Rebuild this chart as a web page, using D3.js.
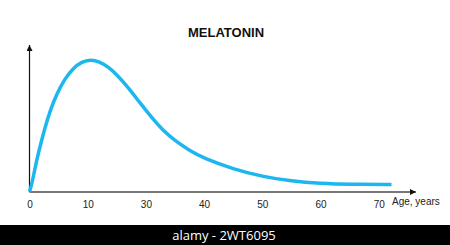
<!DOCTYPE html>
<html>
<head>
<meta charset="utf-8">
<script src="https://cdn.jsdelivr.net/npm/d3@7"></script>
<style>
  body { margin: 0; background: #fff; }
  text { font-family: "Liberation Sans", Arial, sans-serif; }
</style>
</head>
<body>
<div id="chart"></div>
<script>
// tick labels as printed on the original (no "20")
var tickLabels = ["0", "10", "30", "40", "50", "60", "70"];
// curve positions in tick-slot units, level relative to the peak (=100)
var agePos = [0, 0.03, 0.07, 0.12, 0.18, 0.27, 0.36, 0.47, 0.6, 0.75, 0.9, 1.05,
  1.2, 1.35, 1.5, 1.7, 1.9, 2.1, 2.3, 2.5, 2.75, 3.0, 3.5, 4.0, 4.5, 5.0, 5.5, 6.22];
var level = [0, 4, 12, 23, 34, 49, 62, 74, 85, 93.5, 98.3, 100,
  98.5, 94.5, 88.5, 78.5, 67, 56, 46, 38.5, 31, 25, 17, 11.3, 7.8, 6.1, 5.4, 5.3];

var svgWidth = 450;
var svgHeight = 245;

var svg = d3.select("#chart")
  .append("svg")
  .attr("width", svgWidth)
  .attr("height", svgHeight);

var x = d3.scaleLinear()
  .domain([0, 6])
  .range([29.5, 378.7]);

var y = d3.scaleLinear()
  .domain([0, 100])
  .range([191.5, 59.5]);

var defs = svg.append("defs");
defs.append("marker")
  .attr("id", "arrowX")
  .attr("viewBox", "0 0 10 10")
  .attr("refX", 10).attr("refY", 5)
  .attr("markerWidth", 10).attr("markerHeight", 6)
  .attr("markerUnits", "userSpaceOnUse")
  .attr("orient", "auto")
  .append("path").attr("d", "M0,0L10,5L0,10Z").attr("fill", "#111");
defs.append("marker")
  .attr("id", "arrowY")
  .attr("viewBox", "0 0 10 10")
  .attr("refX", 10).attr("refY", 5)
  .attr("markerWidth", 9).attr("markerHeight", 6)
  .attr("markerUnits", "userSpaceOnUse")
  .attr("orient", "auto")
  .append("path").attr("d", "M0,0L10,5L0,10Z").attr("fill", "#111");

// title
svg.append("text")
  .attr("x", 226)
  .attr("y", 37)
  .attr("text-anchor", "middle")
  .style("font-size", "13px")
  .style("font-weight", "bold")
  .style("fill", "#111")
  .text("MELATONIN");

// y axis
svg.append("line")
  .attr("x1", x(0)).attr("x2", x(0))
  .attr("y1", 192).attr("y2", 45)
  .attr("stroke", "#111")
  .attr("stroke-width", 1.2)
  .attr("marker-end", "url(#arrowY)");

// x axis line
svg.append("line")
  .attr("x1", x(0)).attr("x2", 416)
  .attr("y1", 192).attr("y2", 192)
  .attr("stroke", "#777")
  .attr("stroke-width", 2)
  .attr("marker-end", "url(#arrowX)");

var xAxis = d3.axisBottom(x)
  .tickValues(d3.range(tickLabels.length))
  .tickFormat(function(d) { return tickLabels[d]; })
  .tickSize(0)
  .tickPadding(7);

var gx = svg.append("g")
  .attr("transform", "translate(0, 194)")
  .call(xAxis);
gx.select(".domain").remove();
gx.selectAll("text")
  .style("font-family", "'Liberation Sans', Arial, sans-serif")
  .style("font-size", "10px")
  .style("fill", "#222");

svg.append("text")
  .attr("x", 392)
  .attr("y", 205)
  .style("font-size", "10px")
  .style("fill", "#222")
  .text("Age, years");

// curve
var points = agePos.map(function(d, i) { return [d, level[i]]; });
var line = d3.line()
  .x(d => x(d[0]))
  .y(d => y(d[1]))
  .curve(d3.curveBasis);

svg.append("path")
  .datum(points)
  .attr("d", line)
  .attr("fill", "none")
  .attr("stroke", "#1cb7ef")
  .attr("stroke-width", 3.5);

// bottom strip
svg.append("rect")
  .attr("x", 0).attr("y", 225)
  .attr("width", svgWidth).attr("height", 20)
  .attr("fill", "#000");
svg.append("text")
  .attr("x", 224)
  .attr("y", 240)
  .attr("text-anchor", "middle")
  .style("font-family", "'Open Sans', sans-serif")
  .style("font-size", "13px")
  .style("fill", "#fff")
  .text("alamy - 2WT6095");
</script>
</body>
</html>
